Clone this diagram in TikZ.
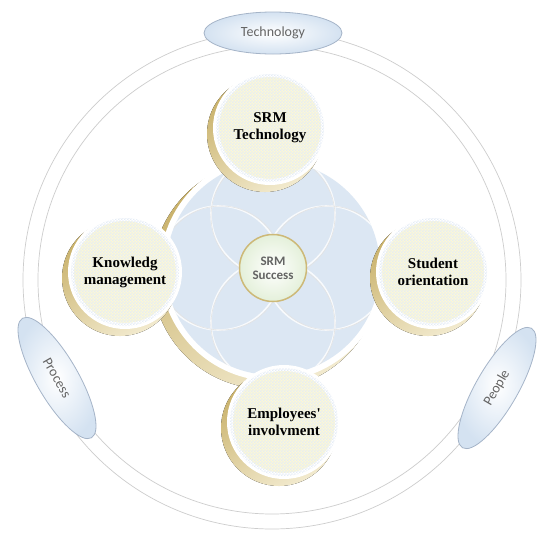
\documentclass[tikz,border=0pt]{standalone}
\usepackage{fontspec}
\newfontfamily\sansf{Carlito}
\newfontfamily\seriff{Liberation Serif}
\usetikzlibrary{shapes.geometric,patterns}
\pgfdeclarepatternformonly{smallcheck}{\pgfpointorigin}{\pgfqpoint{3.2pt}{3.2pt}}{\pgfqpoint{3.2pt}{3.2pt}}{%
  \pgfpathrectangle{\pgfpointorigin}{\pgfqpoint{1.6pt}{1.6pt}}%
  \pgfpathrectangle{\pgfqpoint{1.6pt}{1.6pt}}{\pgfqpoint{1.6pt}{1.6pt}}%
  \pgfusepath{fill}}
\definecolor{ringline}{RGB}{205,205,205}
\definecolor{lblue}{RGB}{220,231,243}
\definecolor{ellblue}{RGB}{212,226,241}
\definecolor{ellline}{RGB}{165,180,200}
\definecolor{gold}{RGB}{200,176,104}
\definecolor{paleg}{RGB}{242,234,206}
\definecolor{satyel}{RGB}{252,248,214}
\definecolor{satblu}{RGB}{228,236,246}
\definecolor{txtgray}{RGB}{100,100,100}
\definecolor{cgreen}{RGB}{228,240,218}
\definecolor{cgold}{RGB}{205,185,120}
\begin{document}
\begin{tikzpicture}[x=1pt,y=-1pt,
  tag/.style={ellipse, draw=ellline, line width=0.8pt, inner color=white, outer color=ellblue,
    minimum width=138pt, minimum height=42pt, inner sep=0pt, font=\sansf\fontsize{14}{14}\selectfont, text=txtgray},
  sat/.style={circle, minimum size=108pt, inner sep=0pt, draw=white, line width=6pt, fill=satyel,
    postaction={pattern=smallcheck, pattern color=satblu},
    align=center, font=\seriff\bfseries\fontsize{15}{17}\selectfont},
  crescent/.style={left color=gold, right color=paleg, shading angle=30},
  petal/.style={draw=white, line width=1.6pt, opacity=0.8}
]
\useasboundingbox (0,0) rectangle (550,536);
% outer ring
\fill[white, draw=ringline, line width=0.7pt] (272,280) circle (249);
\fill[white, draw=ringline, line width=0.7pt] (272,280) circle (234);
% central disc shadow and disc
\fill[crescent] (266,275) circle (114);
\fill[white] (273,268) circle (113);
\fill[lblue] (273,268) circle (107);
\begin{scope}
\clip (273,268) circle (107);
\draw[petal] (273,214) circle (62);
\draw[petal] (273,322) circle (62);
\draw[petal] (219,268) circle (62);
\draw[petal] (327,268) circle (62);
\draw[gray!22, line width=0.6pt] (273,216) circle (62);
\draw[gray!22, line width=0.6pt] (273,324) circle (62);
\draw[gray!22, line width=0.6pt] (221,268) circle (62);
\draw[gray!22, line width=0.6pt] (329,268) circle (62);
\end{scope}
% satellite crescents
\fill[crescent] (265,134) circle (58);
\fill[crescent] (120,278) circle (58);
\fill[crescent] (428,278) circle (58);
\fill[crescent] (279,428) circle (58);
% satellites
\node[sat] (tech) at (270,128) {SRM\\Technology};
\node[sat] (know) at (125,272) {Knowledg\\management};
\node[sat] (stud) at (433,272) {Student\\orientation};
\node[sat] (empl) at (284,422) {Employees'\\involvment};
% center
\node[circle, minimum size=67pt, inner sep=0pt, draw=cgold, line width=1.5pt, inner color=white, outer color=cgreen,
  align=center, font=\sansf\bfseries\fontsize{13}{14}\selectfont, text=txtgray] (succ) at (273,268) {SRM\\Success};
% tags on ring
\node[tag] (ttech) at (273,33) {Technology};
\node[tag, rotate=-60] (tproc) at (57,378) {Process};
\node[tag, rotate=60] (tpeop) at (497,388) {People};
\end{tikzpicture}
\end{document}
